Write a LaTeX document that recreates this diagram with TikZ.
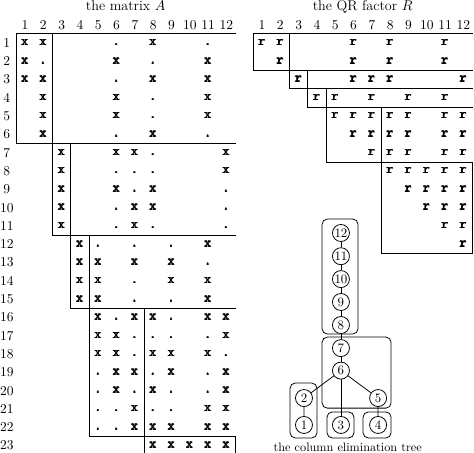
\documentclass[tikz,border=0pt]{standalone}
\usepackage{amsmath}
\usepackage{amssymb}
\usepackage{tikz}

\begin{document}
\begin{tikzpicture}[x = 0.5cm, y = -0.5cm, line width = 0.6pt,
                    entry/.style = {inner sep = 0pt, text height = 1ex, text depth = 0pt,
                                    font = \fontsize{10.5}{12}\selectfont\ttfamily},
                    num/.style = {inner sep = 0pt, font = \fontsize{10.5}{12}\selectfont},
                    heading/.style = {anchor = base, inner sep = 0pt, font = \fontsize{11}{13}\selectfont},
                    vtx/.style = {circle, draw, fill = white, inner sep = 0pt, minimum size = 0.465cm,
                                  font = \fontsize{10}{12}\selectfont},
                    grp/.style = {draw, rounded corners = 4pt}]
  \useasboundingbox (0, 0) rectangle (25.9, 24.75);

  % the matrix A
  \begin{scope}[shift = {(0.37, 1.35)}]
    \node [heading] (titleA) at (6.5, -0.8) {the matrix $A$};
    \foreach \j in {1, ..., 12}
      \node [num] (ah-\j) at (\j, 0) {\j};
    \foreach \i in {1, ..., 23}
      \node [num] (al-\i) at (0, \i) {\i};
    \foreach \i/\row in {1/{1/x,2/x,6/.,8/x,11/.},
                         2/{1/x,2/.,6/x,8/.,11/x},
                         3/{1/x,2/x,6/.,8/x,11/x},
                         4/{2/x,6/x,8/.,11/x},
                         5/{2/x,6/x,8/.,11/x},
                         6/{2/x,6/.,8/x,11/.},
                         7/{3/x,6/x,7/x,8/.,12/x},
                         8/{3/x,6/.,7/.,8/.,12/x},
                         9/{3/x,6/x,7/.,8/x,12/.},
                         10/{3/x,6/.,7/x,8/x,12/.},
                         11/{3/x,6/.,7/x,8/.,12/.},
                         12/{4/x,5/.,7/.,9/.,11/x},
                         13/{4/x,5/x,7/x,9/x,11/.},
                         14/{4/x,5/x,7/.,9/x,11/x},
                         15/{4/x,5/x,7/.,9/.,11/x},
                         16/{5/x,6/.,7/x,8/x,9/.,11/x,12/x},
                         17/{5/x,6/x,7/.,8/.,9/.,11/.,12/x},
                         18/{5/x,6/x,7/.,8/x,9/x,11/x,12/.},
                         19/{5/.,6/x,7/x,8/.,9/x,11/.,12/x},
                         20/{5/.,6/x,7/.,8/x,9/.,11/.,12/x},
                         21/{5/.,6/.,7/x,8/.,9/.,11/x,12/x},
                         22/{5/.,6/.,7/x,8/x,9/x,11/x,12/x},
                         23/{8/x,9/x,10/x,11/x,12/x}}
      \foreach \j/\s in \row
        \node [entry] (a-\i-\j) at (\j, \i) {\pmb{\s}};
    % diagonal blocks and their rows
    \foreach \ca/\cb/\ra/\rb in {1/2/1/6, 3/3/7/11, 4/4/12/15, 5/7/16/22, 8/12/23/23} {
      \draw (\ca-0.5, \ra-0.5) rectangle (\cb+0.5, \rb+0.5);
      \draw (\cb+0.5, \ra-0.5) -- (12.5, \ra-0.5) (\cb+0.5, \rb+0.5) -- (12.5, \rb+0.5);
    }
  \end{scope}

  % the factor R
  \begin{scope}[shift = {(13.32, 1.35)}]
    \node [heading] (titleR) at (6.5, -0.8) {the QR factor $R$};
    \foreach \j in {1, ..., 12}
      \node [num] (rh-\j) at (\j, 0) {\j};
    \foreach \i/\row in {1/{1,2,6,8,11},
                         2/{2,6,8,11},
                         3/{3,6,7,8,12},
                         4/{4,5,7,9,11},
                         5/{5,6,7,8,9,11,12},
                         6/{6,7,8,9,11,12},
                         7/{7,8,9,11,12},
                         8/{8,9,10,11,12},
                         9/{9,10,11,12},
                         10/{10,11,12},
                         11/{11,12},
                         12/{12}}
      \foreach \j in \row
        \node [entry] (r-\i-\j) at (\j, \i) {\pmb{r}};
    \foreach \ca/\cb in {1/2, 3/3, 4/4, 5/7, 8/12} {
      \draw (\ca-0.5, \ca-0.5) rectangle (\cb+0.5, \cb+0.5);
      \draw (\cb+0.5, \ca-0.5) -- (12.5, \ca-0.5) (\cb+0.5, \cb+0.5) -- (12.5, \cb+0.5);
    }
  \end{scope}

  % the column elimination tree
  \draw [grp] (17.6, 11.97) rectangle (19.56, 18.25);
  \draw [grp] (17.6, 18.42) rectangle (21.37, 22.3);
  \draw [grp] (15.85, 20.93) rectangle (17.32, 23.93);
  \draw [grp] (17.87, 22.51) rectangle (19.34, 23.93);
  \draw [grp] (19.84, 22.51) rectangle (21.37, 23.93);

  \node [vtx] (v12) at (18.63, 12.73) {12};
  \node [vtx] (v11) at (18.63, 14.0) {11};
  \node [vtx] (v10) at (18.63, 15.25) {10};
  \node [vtx] (v9) at (18.63, 16.5) {9};
  \node [vtx] (v8) at (18.63, 17.76) {8};
  \node [vtx] (v7) at (18.63, 19.02) {7};
  \node [vtx] (v6) at (18.63, 20.25) {6};
  \node [vtx] (v2) at (16.61, 21.75) {2};
  \node [vtx] (v5) at (20.66, 21.75) {5};
  \node [vtx] (v1) at (16.61, 23.22) {1};
  \node [vtx] (v3) at (18.63, 23.22) {3};
  \node [vtx] (v4) at (20.66, 23.22) {4};
  \draw (v12) -- (v11) -- (v10) -- (v9) -- (v8) -- (v7) -- (v6);
  \draw (v6) -- (v2) -- (v1);
  \draw (v6) -- (v3);
  \draw (v6) -- (v5) -- (v4);

  \node [heading, font = \fontsize{9.5}{11}\selectfont] (treecap) at (19.0, 24.67) {the column elimination tree};
\end{tikzpicture}
\end{document}
